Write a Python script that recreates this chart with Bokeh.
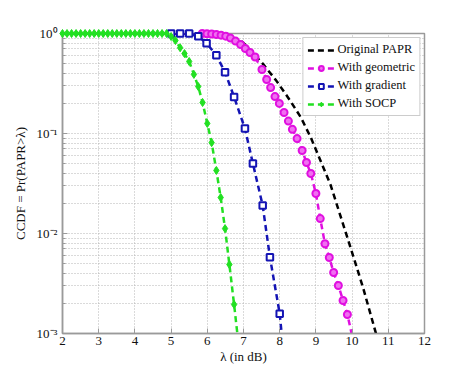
from bokeh.plotting import figure
from bokeh.models import Legend, LegendItem, FixedTicker, CustomJSTickFormatter
from bokeh.embed import file_html
from bokeh.resources import INLINE

# ---- data ----
orig_lam = [2.0, 5.5, 6.0, 6.5, 6.97, 7.25, 7.53, 7.90, 8.22, 8.58, 8.86, 9.4, 9.87, 10.3, 10.66, 10.8]
orig_ccdf = [1.0, 1.0, 0.995, 0.96, 0.824, 0.645, 0.50, 0.34, 0.232, 0.146, 0.091, 0.031, 0.0091, 0.0029, 0.001, 0.00065]

geo_lam = [5.86, 5.99, 6.12, 6.25, 6.38, 6.51, 6.64, 6.78, 6.92, 7.05, 7.18, 7.32, 7.51, 7.64, 7.75,
           7.87, 7.99, 8.12, 8.24, 8.35, 8.48, 8.62, 8.74, 8.86, 9.00, 9.12, 9.25, 9.37, 9.49, 9.62, 9.75, 9.87]
geo_ccdf = [1.0, 0.995, 0.989, 0.977, 0.962, 0.94, 0.90, 0.84, 0.776, 0.708, 0.646, 0.582, 0.437, 0.347, 0.288,
            0.234, 0.20, 0.162, 0.133, 0.110, 0.089, 0.0676, 0.0513, 0.0398, 0.0251, 0.0141, 0.0079, 0.00575,
            0.00407, 0.00302, 0.00214, 0.00155]
geo_line_lam = [2.0] + geo_lam + [10.0]
geo_line_ccdf = [1.0] + geo_ccdf + [0.00095]

grad_lam = [5.0, 5.25, 5.50, 5.75, 5.98, 6.25, 6.49, 6.74, 7.04, 7.26, 7.53, 7.73, 8.0]
grad_ccdf = [1.0, 1.0, 0.998, 0.94, 0.80, 0.605, 0.41, 0.232, 0.112, 0.050, 0.019, 0.0058, 0.00158]
grad_line_lam = [2.0] + grad_lam + [8.08]
grad_line_ccdf = [1.0] + grad_ccdf + [0.0008]

socp_lam = [2.0, 2.125, 2.25, 2.375, 2.5, 2.625, 2.75, 2.875, 3.0, 3.125, 3.25, 3.375, 3.5, 3.625,
            3.75, 3.875, 4.0, 4.125, 4.25, 4.375, 4.5, 4.625, 4.75, 4.875,
            5.0, 5.12, 5.25, 5.37, 5.50, 5.63, 5.75, 5.87, 6.0, 6.12, 6.25, 6.37, 6.49, 6.61, 6.74]
socp_ccdf = [1.0] * 24 + [0.933, 0.85, 0.72, 0.63, 0.525, 0.39, 0.295, 0.204, 0.126, 0.081, 0.0427,
                          0.0229, 0.0112, 0.0049, 0.00195]
socp_line_lam = socp_lam + [6.86]
socp_line_ccdf = socp_ccdf + [0.0008]

x_ticks = [2, 3, 4, 5, 6, 7, 8, 9, 10, 11, 12]
y_ticks = [1e-3, 1e-2, 1e-1, 1.0]
y_minor = [m * 10.0 ** e for e in (-3, -2, -1) for m in range(2, 10)]

SERIF = "'Liberation Serif'"
C_BLACK = "#000000"
C_MAG = "#e010e0"
C_BLUE = "#1414b4"
C_GREEN = "#22e022"

p = figure(width=458, height=367, x_range=(2, 12), y_range=(1e-3, 1.0), y_axis_type="log",
           output_backend="svg", toolbar_location=None,
           min_border_left=62, min_border_right=34, min_border_top=33, min_border_bottom=34)

p.background_fill_color = "white"
p.border_fill_color = "white"
p.outline_line_color = "#9a9a9a"
p.outline_line_width = 1.5

# axes
p.xaxis.ticker = FixedTicker(ticks=x_ticks)
p.yaxis.ticker = FixedTicker(ticks=y_ticks, minor_ticks=y_minor)
p.yaxis.formatter = CustomJSTickFormatter(code="""
const e = Math.round(Math.log10(tick));
const m = {'-':'\u207b','0':'\u2070','1':'\u00b9','2':'\u00b2','3':'\u00b3'};
return '10' + String(e).split('').map(c => m[c]).join('');
""")
for ax in (p.xaxis, p.yaxis):
    ax.axis_line_color = "#9a9a9a"
    ax.axis_line_width = 1.5
    ax.major_tick_in = 5
    ax.major_tick_out = 0
    ax.minor_tick_in = 3
    ax.minor_tick_out = 0
    ax.major_tick_line_color = "#9a9a9a"
    ax.minor_tick_line_color = "#9a9a9a"
    ax.major_label_text_font = SERIF
    ax.major_label_text_font_size = "13px"
    ax.major_label_text_color = "#111111"
    ax.axis_label_text_font = SERIF
    ax.axis_label_text_font_size = "13px"
    ax.axis_label_text_font_style = "normal"
    ax.axis_label_text_color = "#111111"
p.xaxis.major_label_standoff = 3
p.xaxis.axis_label_standoff = 1
p.yaxis.major_label_standoff = 5
p.yaxis.axis_label_standoff = 6
p.xaxis.axis_label = "λ (in dB)"
p.yaxis.axis_label = "CCDF = Pr(PAPR>λ)"

# grids
for g in (p.xgrid, p.ygrid):
    g.grid_line_color = "#b4b4b4"
    g.grid_line_dash = "1 2"
    g.grid_line_width = 1
p.ygrid.minor_grid_line_color = "#b4b4b4"
p.ygrid.minor_grid_line_dash = "1 2"
p.ygrid.minor_grid_line_width = 1

DASH = "6 4"
LW = 2.5

r_orig = p.line(orig_lam, orig_ccdf, line_color=C_BLACK, line_width=LW, line_dash=DASH)

r_geo_l = p.line(geo_line_lam, geo_line_ccdf, line_color=C_MAG, line_width=LW, line_dash=DASH)
r_grad_l = p.line(grad_line_lam, grad_line_ccdf, line_color=C_BLUE, line_width=LW, line_dash=DASH)
r_socp_l = p.line(socp_line_lam, socp_line_ccdf, line_color=C_GREEN, line_width=LW, line_dash=DASH)

r_geo_m = p.scatter(geo_lam, geo_ccdf, marker="circle", size=7, line_color=C_MAG, line_width=2,
                    fill_color="#f070f0", level="overlay")
r_grad_m = p.scatter(grad_lam, grad_ccdf, marker="square", size=6.5, line_color=C_BLUE, line_width=2,
                     fill_color="white", level="overlay")
r_socp_m = p.scatter(socp_lam, socp_ccdf, marker="diamond", size=8, line_color=C_GREEN, line_width=1,
                     fill_color=C_GREEN, level="overlay")

legend = Legend(items=[
    LegendItem(label="Original PAPR", renderers=[r_orig]),
    LegendItem(label="With geometric", renderers=[r_geo_l, r_geo_m]),
    LegendItem(label="With gradient", renderers=[r_grad_l, r_grad_m]),
    LegendItem(label="With SOCP", renderers=[r_socp_l, r_socp_m]),
], location="top_right")
legend.label_text_font = SERIF
legend.label_text_font_size = "12.5px"
legend.label_text_color = "#111111"
legend.glyph_width = 27
legend.glyph_height = 12
legend.label_height = 12
legend.label_standoff = 3
legend.spacing = 3
legend.padding = 4
legend.margin = 4
legend.border_line_color = "#9a9a9a"
legend.border_line_width = 1.5
legend.background_fill_color = "white"
legend.background_fill_alpha = 1.0
p.add_layout(legend)

open("out.html", "w").write(file_html(p, INLINE))
